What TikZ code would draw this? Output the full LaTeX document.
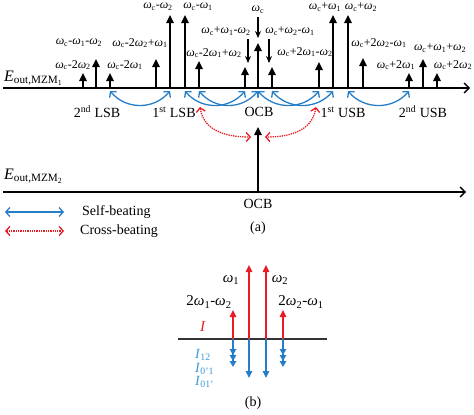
\documentclass[tikz,border=0pt]{standalone}
\usepackage{fontspec}
\setmainfont{Liberation Serif}
\usetikzlibrary{arrows.meta}
\definecolor{bl}{RGB}{38,125,200}
\definecolor{rd}{RGB}{232,28,36}
\definecolor{lbl}{RGB}{60,150,215}
\newcommand{\wg}[1]{\textit{ω}\textsubscript{#1}}
\begin{document}
\begin{tikzpicture}[x=1pt,y=-1pt,
  spec/.style={line width=1.5pt,-{Triangle[length=8pt,width=7.5pt]}},
  dn/.style={line width=1.2pt,-{Stealth[length=7pt,width=6pt]}},
  axisl/.style={line width=1.3pt,-{Straight Barb[length=5pt,width=10pt]}},
  lab/.style={font=\fontsize{12}{14}\selectfont,inner sep=0pt},
  big/.style={font=\fontsize{14}{16}\selectfont,inner sep=0pt},
  blab/.style={font=\fontsize{15}{17}\selectfont,inner sep=0pt},
  ilab/.style={font=\fontsize{14}{15}\selectfont,inner sep=0pt,text=lbl,anchor=base west},
  elab/.style={font=\fontsize{16}{18}\selectfont,inner sep=0pt,anchor=west},
  selfb/.style={bl,line width=1.3pt,{Straight Barb[length=4pt,width=9pt]}-{Straight Barb[length=4pt,width=9pt]}},
  crossb/.style={rd,line width=1.3pt,densely dotted,{Straight Barb[length=4pt,width=9pt]}-{Straight Barb[length=4pt,width=9pt]}},
  redup/.style={rd,line width=1.4pt,-{Triangle[length=7pt,width=6.5pt]}},
  bluedn/.style={bl,line width=1.4pt,-{Triangle[length=7pt,width=6.5pt]}},
  bluedn3/.style={bl,line width=1.4pt,-{Triangle[length=6pt,width=6.5pt]Triangle[length=6pt,width=6.5pt]Triangle[length=6pt,width=6.5pt]}}
]
\useasboundingbox (0,0) rectangle (474,415);
% ---------- upper axis ----------
\coordinate (a1s) at (3,88);
\coordinate (a1e) at (470,88);
\draw[axisl] (a1s) -- (a1e);
\node[elab] (e1) at (4,78) {\textit{E}\textsubscript{out,MZM\textsubscript{1}}};
% spectral lines
\foreach \n/\x/\t in {a/83/73, b/96/59, c/110/73, d/156/59, e/170/15, f/185/15, g/199/61, h/245/67, i/258/43, j/272/67, k/319/62, l/333/15, m/348/15, n/363/58, o/409/73, p/423/59, q/437/73}{
  \coordinate (s\n) at (\x,88);
  \coordinate (t\n) at (\x,\t);
  \draw[spec] (s\n) -- (t\n);
}
% labels
\node[lab] (la) at (73,65) {\wg{c}-2\wg{2}};
\node[lab] (lb) at (79,43) {\wg{c}-\wg{1}-\wg{2}};
\node[lab] (lc) at (125,65) {\wg{c}-2\wg{1}};
\node[lab] (ld) at (140,43) {\wg{c}-2\wg{2}+\wg{1}};
\node[lab] (le) at (158,7) {\wg{c}-\wg{2}};
\node[lab] (lf) at (198,7) {\wg{c}-\wg{1}};
\node[lab] (lg) at (214,53) {\wg{c}-2\wg{1}+\wg{2}};
\node[lab] (lh) at (226,31) {\wg{c}+\wg{1}-\wg{2}};
\node[lab] (li) at (258,10) {\wg{c}};
\node[lab] (lj) at (290,31) {\wg{c}+\wg{2}-\wg{1}};
\node[lab] (lk) at (305,52) {\wg{c}+2\wg{1}-\wg{2}};
\node[lab] (ll) at (325,7) {\wg{c}+\wg{1}};
\node[lab] (lm) at (361,7) {\wg{c}+\wg{2}};
\node[lab] (ln) at (379,43) {\wg{c}+2\wg{2}-\wg{1}};
\node[lab] (lo) at (396,65) {\wg{c}+2\wg{1}};
\node[lab] (lp) at (440,48) {\wg{c}+\wg{1}+\wg{2}};
\node[lab] (lq) at (453,65) {\wg{c}+2\wg{2}};
% down arrows
\coordinate (di1) at (258,17); \coordinate (di2) at (258,38);
\coordinate (dh1) at (248,39); \coordinate (dh2) at (248,63);
\coordinate (dj1) at (269,39); \coordinate (dj2) at (269,63);
\draw[dn] (di1) -- (di2);
\draw[dn] (dh1) -- (dh2);
\draw[dn] (dj1) -- (dj2);
% self-beating arcs
\foreach \p/\q in {110/170, 185/245, 199/258, 258/319, 272/333, 348/409}{
  \coordinate (u\p) at (\p,91);
  \coordinate (v\q) at (\q,91);
  \draw[selfb] (u\p) .. controls ([shift={(16,19)}]u\p) and ([shift={(-16,19)}]v\q) .. (v\q);
}
% band labels
\node[big] (lsb2) at (97,112) {2\textsuperscript{nd} LSB};
\node[big] (lsb1) at (174,112) {1\textsuperscript{st} LSB};
\node[big] (ocb1) at (259,112) {OCB};
\node[big] (usb1) at (343,112) {1\textsuperscript{st} USB};
\node[big] (usb2) at (423,112) {2\textsuperscript{nd} USB};
% cross-beating
\coordinate (rl) at (200,107);
\coordinate (rr) at (316,107);
\coordinate (cl) at (251,137);
\coordinate (cr) at (265,137);
\draw[crossb] (rl) .. controls (204,132) and (228,137) .. (cl);
\draw[crossb] (rr) .. controls (312,132) and (288,137) .. (cr);
% ---------- lower axis ----------
\coordinate (a2s) at (3,192);
\coordinate (a2e) at (466,192);
\draw[axisl] (a2s) -- (a2e);
\node[elab] (e2) at (4,176) {\textit{E}\textsubscript{out,MZM\textsubscript{2}}};
\coordinate (o2b) at (258,192);
\coordinate (o2t) at (258,127);
\draw[spec] (o2b) -- (o2t);
\node[big] (ocb2) at (258,204) {OCB};
\node[big] (capa) at (258,228) {(a)};
% legend
\coordinate (lg1a) at (5,212); \coordinate (lg1b) at (64,212);
\coordinate (lg2a) at (5,231); \coordinate (lg2b) at (64,231);
\draw[selfb] (lg1a) -- (lg1b);
\draw[crossb] (lg2a) -- (lg2b);
\node[big,anchor=west] (tself) at (82,212) {Self-beating};
\node[big,anchor=west] (tcross) at (80,231) {Cross-beating};
% ---------- part (b) ----------
\coordinate (bs) at (178,339);
\coordinate (be) at (327,339);
\draw[line width=1.5pt,black!80] (bs) -- (be);
\foreach \n/\x/\t in {1/233/310, 2/249/265, 3/266/265, 4/283/310}{
  \coordinate (bb\n) at (\x,339);
  \coordinate (bt\n) at (\x,\t);
  \draw[redup] (bb\n) -- (bt\n);
}
\coordinate (bd1) at (233,367);
\coordinate (bd2) at (249,378);
\coordinate (bd3) at (266,378);
\coordinate (bd4) at (283,367);
\draw[bluedn3] (bb1) -- (bd1);
\draw[bluedn] (bb2) -- (bd2);
\draw[bluedn] (bb3) -- (bd3);
\draw[bluedn3] (bb4) -- (bd4);
\node[blab] (w1) at (231,280) {\wg{1}};
\node[blab] (w2) at (280,280) {\wg{2}};
\node[blab] (w21) at (209,302) {2\wg{1}-\wg{2}};
\node[blab] (w12) at (301,302) {2\wg{2}-\wg{1}};
\node[blab,text=rd] (iI) at (203,327) {\textit{I}};
\node[ilab] (i12) at (195,358) {\textit{I}\textsubscript{12}};
\node[ilab] (i01) at (195,372) {\textit{I}\textsubscript{0'1}};
\node[ilab] (i10) at (195,385) {\textit{I}\textsubscript{01'}};
\node[big] (capb) at (253,403) {(b)};
\end{tikzpicture}
\end{document}
